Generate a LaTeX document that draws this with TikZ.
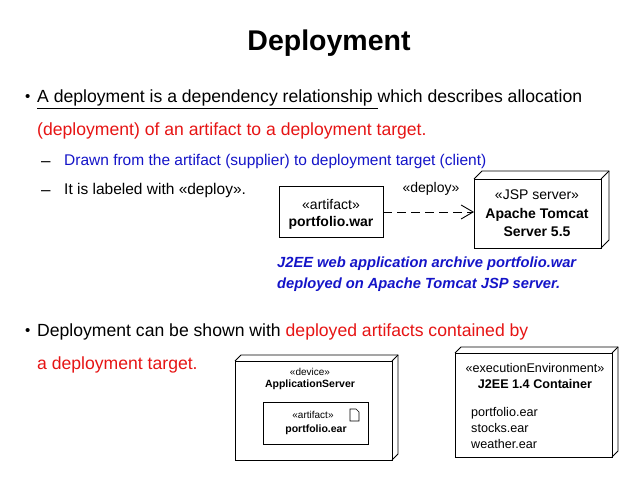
\documentclass[tikz,border=0pt]{standalone}
\usepackage{fontspec}
\setmainfont{Liberation Sans}
\usetikzlibrary{arrows.meta}
\definecolor{slidered}{RGB}{230,20,20}
\definecolor{slideblue}{RGB}{20,20,200}
\tikzset{
  umlbox/.style={draw, line width=0.9pt},
  txt/.style={inner sep=0pt, anchor=base west},
  ctr/.style={inner sep=0pt, anchor=base},
}
% a 3D node box: front corners (x1,y1) (x2,y2), depth d
\newcommand{\nodebox}[5]{%
  \draw[umlbox] (#1,#2) rectangle (#3,#4);
  \draw[umlbox] (#1,#2) -- ++(#5,-#5) -- (#3+#5,#2-#5) -- (#3+#5,#4-#5) -- (#3,#4);
  \draw[umlbox] (#3,#2) -- (#3+#5,#2-#5);
}
\begin{document}
\begin{tikzpicture}[x=1pt,y=-1pt]
\useasboundingbox (0,0) rectangle (638,478);
% title
\node[ctr, font=\bfseries\fontsize{28.5}{32}\selectfont] (title) at (329,51) {Deployment};
% first bullet
\node[txt, font=\fontsize{15}{20}\selectfont] (b1) at (25,102) {•};
\node[txt, font=\fontsize{17.6}{20}\selectfont] (l1) at (37,103) {\underline{A deployment is a dependency relationship }which describes allocation};
\node[txt, font=\fontsize{17.6}{20}\selectfont, text=slidered] (l2) at (37,136) {(deployment) of an artifact to a deployment target.};
\node[txt, font=\fontsize{17}{20}\selectfont] (d1) at (41,167) {–};
\node[txt, font=\fontsize{15.5}{18}\selectfont, text=slideblue] (s1) at (64,166) {Drawn from the artifact (supplier) to deployment target (client)};
\node[txt, font=\fontsize{17}{20}\selectfont] (d2) at (41,196) {–};
\node[txt, font=\fontsize{15.5}{18}\selectfont] (s2) at (64,195) {It is labeled with «deploy».};
% top diagram
\draw[umlbox] (279,186) rectangle (383,237);
\node[ctr, font=\fontsize{14}{16}\selectfont] (war1) at (331,210) {«artifact»};
\node[ctr, font=\bfseries\fontsize{14}{16}\selectfont] (war2) at (331,227) {portfolio.war};
\coordinate (warR) at (383,212);
\nodebox{474}{179}{601}{248}{8}
\coordinate (tomL) at (474,212);
\node[ctr, font=\fontsize{14}{16}\selectfont] (tom1) at (537,200) {«JSP server»};
\node[ctr, font=\bfseries\fontsize{14}{16}\selectfont] (tom2) at (537,219) {Apache Tomcat};
\node[ctr, font=\bfseries\fontsize{14}{16}\selectfont] (tom3) at (537,237) {Server 5.5};
\draw[line width=0.9pt, dash pattern=on 9pt off 5pt, -{Straight Barb[length=12pt,width=14pt]}] (warR) -- (tomL);
\node[ctr, font=\fontsize{14}{16}\selectfont] (dep) at (431,193) {«deploy»};
\node[txt, font=\bfseries\itshape\fontsize{14.7}{18}\selectfont, text=slideblue] (c1) at (277,268) {J2EE web application archive portfolio.war};
\node[txt, font=\bfseries\itshape\fontsize{14.7}{18}\selectfont, text=slideblue] (c2) at (277,289) {deployed on Apache Tomcat JSP server.};
% second bullet
\node[txt, font=\fontsize{15}{20}\selectfont] (b2) at (25,336) {•};
\node[txt, font=\fontsize{17.6}{20}\selectfont] (l3) at (37,337) {Deployment can be shown with \textcolor{slidered}{deployed artifacts contained by}};
\node[txt, font=\fontsize{17.6}{20}\selectfont, text=slidered] (l4) at (37,370) {a deployment target.};
% bottom-left node
\nodebox{235}{361}{392}{460}{6}
\node[ctr, font=\fontsize{10}{12}\selectfont] (dev1) at (310,376) {«device»};
\node[ctr, font=\bfseries\fontsize{10.5}{12}\selectfont] (dev2) at (310,388) {ApplicationServer};
\draw[umlbox] (263,402) rectangle (368,444);
\node[ctr, font=\fontsize{10}{12}\selectfont] (ear1) at (313,419) {«artifact»};
\node[ctr, font=\bfseries\fontsize{10.5}{12}\selectfont] (ear2) at (316,433) {portfolio.ear};
\draw[line width=0.7pt] (350,409) -- (350,421) -- (359,421) -- (359,412) -- (356,409) -- cycle;
% bottom-right node
\nodebox{455}{353}{612}{457}{6}
\node[ctr, font=\fontsize{12.6}{14}\selectfont] (env1) at (535,373) {«executionEnvironment»};
\node[ctr, font=\bfseries\fontsize{12.6}{14}\selectfont] (env2) at (535,389) {J2EE 1.4 Container};
\node[txt, font=\fontsize{12.6}{14}\selectfont] (f1) at (471,417) {portfolio.ear};
\node[txt, font=\fontsize{12.6}{14}\selectfont] (f2) at (471,433) {stocks.ear};
\node[txt, font=\fontsize{12.6}{14}\selectfont] (f3) at (471,449) {weather.ear};
\end{tikzpicture}
\end{document}
